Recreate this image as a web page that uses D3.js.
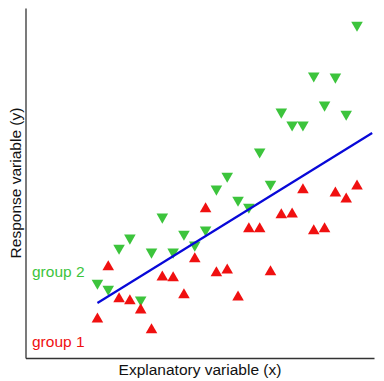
<!DOCTYPE html>
<html><head><meta charset="utf-8">
<script src="https://cdn.jsdelivr.net/npm/d3@7"></script>
<style>body{margin:0;background:#fff;}svg{display:block;}</style>
</head><body>
<script>
const xValues = [1,2,3,4,5,6,7,8,9,10,11,12,13,14,15,16,17,18,19,20,21,22,23,24,25];
const group1 = [11.1,26.0,16.9,16.3,13.7,8.0,23.1,22.9,18.0,28.3,42.6,24.3,25.1,17.4,36.9,36.9,24.6,40.9,41.1,48.0,36.3,36.9,47.1,45.4,49.1];
const group2 = [21.4,19.7,31.4,34.3,16.6,30.3,40.3,30.3,35.4,32.3,36.6,48.3,52.0,45.1,43.1,58.9,49.7,70.3,66.6,66.6,80.6,72.3,80.3,69.7,95.1];
const fitX = [1, 26.4];
const fitY = [15.7, 64.3];
const labels = {x: "Explanatory variable (x)", y: "Response variable (y)", g1: "group 1", g2: "group 2"};

const W = 384, H = 381;
const svg = d3.select("body").append("svg").attr("width", W).attr("height", H);
const x = d3.scaleLinear().domain([-5.65, 26.57]).range([25.5, 374]);
const y = d3.scaleLinear().domain([0, 100]).range([358, 8]);
const font = "'Liberation Sans', Arial, sans-serif";

const xAxis = d3.axisBottom(x).tickValues([]).tickSizeOuter(0);
const yAxis = d3.axisLeft(y).tickValues([]).tickSizeOuter(0);
svg.append("g").attr("transform", `translate(0,${y(0)})`).call(xAxis)
  .select(".domain").attr("stroke", "#333").attr("stroke-width", 1.3);
svg.append("g").attr("transform", `translate(${x(-5.65)},0)`).call(yAxis)
  .select(".domain").attr("stroke", "#333").attr("stroke-width", 1.3);

const red = "#f01010", green = "#3cc43c", blue = "#0808d8";
const tri = d3.symbol().type(d3.symbolTriangle).size(58);

svg.append("g").selectAll("path").data(xValues).join("path")
  .attr("d", tri)
  .attr("transform", (d, i) => `translate(${x(d)},${y(group2[i])}) rotate(180)`)
  .attr("fill", green);

svg.append("g").selectAll("path").data(xValues).join("path")
  .attr("d", tri)
  .attr("transform", (d, i) => `translate(${x(d)},${y(group1[i])})`)
  .attr("fill", red);

svg.append("path")
  .datum(fitX.map((d, i) => [d, fitY[i]]))
  .attr("d", d3.line().x(d => x(d[0])).y(d => y(d[1])))
  .attr("stroke", blue).attr("stroke-width", 2.2).attr("fill", "none");

svg.append("text").attr("x", 200).attr("y", 375).attr("text-anchor", "middle")
  .attr("font-family", font).attr("font-size", 15.5).attr("fill", "#111").text(labels.x);
svg.append("text").attr("transform", "translate(21,183) rotate(-90)").attr("text-anchor", "middle")
  .attr("font-family", font).attr("font-size", 15.5).attr("fill", "#111").text(labels.y);
svg.append("text").attr("x", 32).attr("y", 277)
  .attr("font-family", font).attr("font-size", 15.5).attr("fill", green).text(labels.g2);
svg.append("text").attr("x", 32).attr("y", 347)
  .attr("font-family", font).attr("font-size", 15.5).attr("fill", red).text(labels.g1);
</script>
</body></html>
